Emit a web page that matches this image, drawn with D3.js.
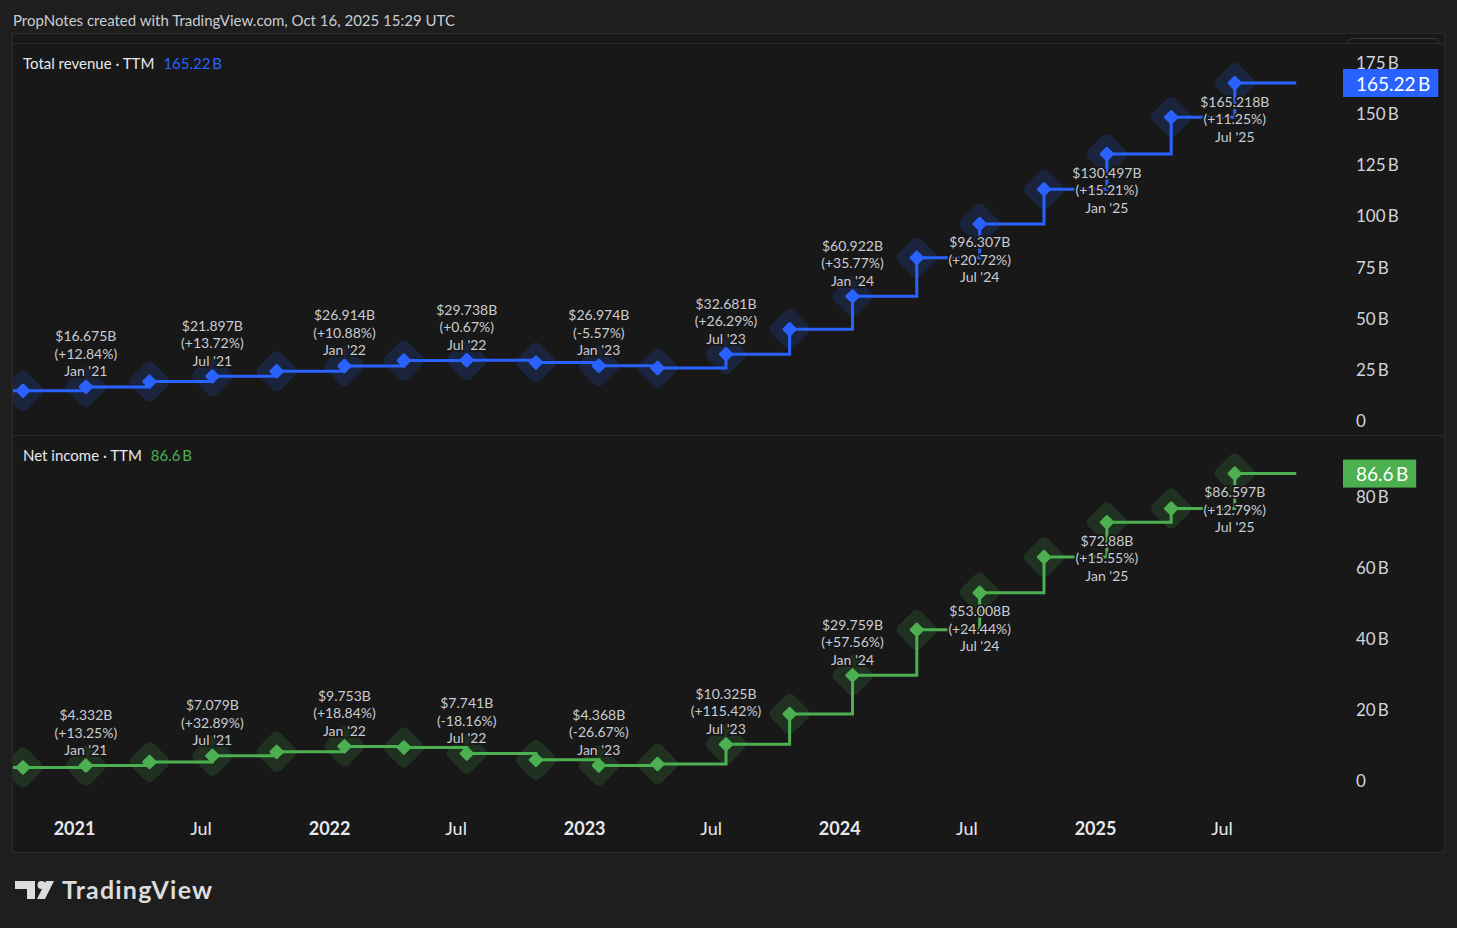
<!DOCTYPE html>
<html>
<head>
<meta charset="utf-8">
<script src="https://cdn.jsdelivr.net/npm/d3@7"></script>
<style>
html, body { margin: 0; padding: 0; background: #1e1e1e; }
svg { display: block; font-family: Lato, "Noto Sans", sans-serif; }
</style>
</head>
<body>
<svg id="chart" width="1457" height="928"></svg>
<script>
// 四半期データ（チャート上の位置から読み取り）
var dates = ["2020-10-20", "2021-01-18", "2021-04-19", "2021-07-18", "2021-10-18",
             "2022-01-23", "2022-04-18", "2022-07-17", "2022-10-24", "2023-01-22",
             "2023-04-16", "2023-07-23", "2023-10-22", "2024-01-20", "2024-04-21",
             "2024-07-20", "2024-10-20", "2025-01-18", "2025-04-20", "2025-07-20"];
var periods = ["Oct '20", "Jan '21", "Apr '21", "Jul '21", "Oct '21",
               "Jan '22", "Apr '22", "Jul '22", "Oct '22", "Jan '23",
               "Apr '23", "Jul '23", "Oct '23", "Jan '24", "Apr '24",
               "Jul '24", "Oct '24", "Jan '25", "Apr '25", "Jul '25"];

// 売上高 TTM (十億ドル)
var revenue = [14.777, 16.675, 19.256, 21.897, 24.274,
               26.914, 29.541, 29.738, 28.566, 26.974,
               25.878, 32.681, 44.870, 60.922, 79.774,
               96.307, 113.269, 130.497, 148.515, 165.218];
var revPct = [null, 12.84, null, 13.72, null, 10.88, null, 0.67, null, -5.57,
              null, 26.29, null, 35.77, null, 20.72, null, 15.21, null, 11.25];

// 純利益 TTM (十億ドル)
var netIncome = [3.825, 4.332, 5.327, 7.079, 8.207,
                 9.753, 9.459, 7.741, 5.957, 4.368,
                 4.793, 10.325, 18.888, 29.759, 42.597,
                 53.008, 63.074, 72.88, 76.774, 86.597];
var netPct = [null, 13.25, null, 32.89, null, 18.84, null, -18.16, null, -26.67,
              null, 115.42, null, 57.56, null, 24.44, null, 15.55, null, 12.79];

// 目盛
var xTicks = ["2021-01-01", "2021-07-01", "2022-01-01", "2022-07-01", "2023-01-01",
              "2023-07-01", "2024-01-01", "2024-07-01", "2025-01-01", "2025-07-01"];
var revTicks = [0, 25, 50, 75, 100, 125, 150, 175];
var netTicks = [0, 20, 40, 60, 80];
var lastDate = "2025-10-16";

var BG = "#181818";
var GRID = "#2c2c2c";
var TXT = "#d1d4dc";

var parse = d3.utcParse("%Y-%m-%d");
var svg = d3.select("#chart");

// 外枠
svg.append("rect").attr("width", 1457).attr("height", 928).attr("fill", "#1e1e1e");
svg.append("rect")
    .attr("x", 12.5).attr("y", 33.5).attr("width", 1432).attr("height", 819)
    .attr("fill", BG).attr("stroke", GRID);

svg.append("text")
    .attr("x", 13).attr("y", 20)
    .attr("dominant-baseline", "central")
    .attr("font-size", 15).attr("fill", "#c9ccd3")
    .text("PropNotes created with TradingView.com, Oct 16, 2025 15:29 UTC");

// 右上のボタンの名残
svg.append("clipPath").attr("id", "topStrip")
    .append("rect").attr("x", 1340).attr("y", 34).attr("width", 104).attr("height", 9);
svg.append("rect")
    .attr("x", 1347.5).attr("y", 38.5).attr("width", 92).attr("height", 24).attr("rx", 6)
    .attr("fill", "none").attr("stroke", "#3a3a3a")
    .attr("clip-path", "url(#topStrip)");

svg.append("line").attr("x1", 13).attr("x2", 1444).attr("y1", 43.5).attr("y2", 43.5).attr("stroke", GRID);
svg.append("line").attr("x1", 13).attr("x2", 1444).attr("y1", 435.5).attr("y2", 435.5).attr("stroke", GRID);

// x スケール
var xScale = d3.scaleUtc()
    .domain([parse("2021-01-01"), parse("2025-01-01")])
    .range([74, 1095]);
var plotLeft = 13, plotRight = 1340;

svg.append("clipPath").attr("id", "plotClip")
    .append("rect").attr("x", plotLeft).attr("y", 44).attr("width", plotRight - plotLeft).attr("height", 760);

// パネルを描く関数
function drawPane(opt) {
    var yScale = d3.scaleLinear().domain(opt.domain).range(opt.range);
    var color = opt.color;
    var pts = opt.values.map(function(v, i) {
        return { date: parse(dates[i]), v: v, pct: opt.pct[i], period: periods[i] };
    });
    var last = pts[pts.length - 1];

    // 目盛
    var axis = svg.append("g")
        .attr("transform", "translate(1343,0)")
        .call(d3.axisRight(yScale)
            .tickValues(opt.ticks)
            .tickSize(0)
            .tickPadding(13)
            .tickFormat(function(d) { return d === 0 ? "0" : d + "\u2009B"; }));
    axis.select(".domain").remove();
    axis.selectAll("text")
        .attr("font-family", "Lato, 'Noto Sans', sans-serif")
        .attr("font-size", 17).attr("fill", TXT);

    var g = svg.append("g").attr("clip-path", "url(#plotClip)");

    // 背景のひし形
    g.selectAll(".halo").data(pts).enter().append("rect")
        .attr("x", -16).attr("y", -16).attr("width", 32).attr("height", 32).attr("rx", 6)
        .attr("fill", color).attr("fill-opacity", 0.16)
        .attr("transform", function(d) {
            return "translate(" + xScale(d.date) + "," + yScale(d.v) + ") rotate(45)";
        });

    // ステップライン
    var lineData = [{ date: xScale.invert(plotLeft), v: pts[0].v }]
        .concat(pts)
        .concat([{ date: parse(lastDate), v: last.v }]);
    var line = d3.line()
        .x(function(d) { return xScale(d.date); })
        .y(function(d) { return yScale(d.v); })
        .curve(d3.curveStepAfter);
    g.append("path")
        .attr("d", line(lineData))
        .attr("fill", "none").attr("stroke", color).attr("stroke-width", 3);

    g.selectAll(".dot").data(pts).enter().append("rect")
        .attr("x", -5.5).attr("y", -5.5).attr("width", 11).attr("height", 11).attr("rx", 1.5)
        .attr("fill", color)
        .attr("transform", function(d) {
            return "translate(" + xScale(d.date) + "," + yScale(d.v) + ") rotate(45)";
        });

    // 注記ラベル
    var topVal = yScale.invert(opt.paneTop);
    pts.filter(function(d) { return d.pct !== null; }).forEach(function(d) {
        var px = xScale(d.date), py = yScale(d.v);
        var below = d.v > topVal / 2;
        var lines = [
            "$" + (+d.v.toFixed(3)) + "B",
            "(" + (d.pct >= 0 ? "+" : "") + d.pct.toFixed(2) + "%)",
            d.period
        ];
        lines.forEach(function(t, k) {
            var ty = below ? py + 18 + k * 17.5 : py - 16 - (2 - k) * 17.5;
            g.append("text")
                .attr("x", px).attr("y", ty)
                .attr("text-anchor", "middle")
                .attr("dominant-baseline", "central")
                .attr("font-size", 14)
                .attr("fill", "#c9ccd3")
                .attr("stroke", BG).attr("stroke-width", 3.5)
                .attr("paint-order", "stroke")
                .text(t);
        });
    });

    // 凡例
    var leg = svg.append("text")
        .attr("x", 23).attr("y", opt.legendY)
        .attr("dominant-baseline", "central")
        .attr("font-size", 15).attr("fill", "#e6e8ee");
    leg.append("tspan").text(opt.name + " \u00b7 TTM");
    leg.append("tspan").attr("dx", 9).attr("fill", color).text(opt.badge);

    // 最新値ラベル
    var ly = yScale(last.v);
    var badge = svg.append("g");
    var bRect = badge.append("rect").attr("fill", color);
    var bText = badge.append("text")
        .attr("x", 1356).attr("y", ly)
        .attr("dominant-baseline", "central")
        .attr("font-size", 19).attr("fill", "#ffffff")
        .text(opt.badge);
    var w = bText.node().getComputedTextLength();
    bRect.attr("x", 1343).attr("y", ly - 14).attr("width", w + 13 + 8).attr("height", 28);
}

drawPane({
    name: "Total revenue",
    values: revenue, pct: revPct, ticks: revTicks,
    domain: [0, 175], range: [421, 63], paneTop: 44,
    color: "#2962ff", badge: "165.22\u2009B", legendY: 63
});

drawPane({
    name: "Net income",
    values: netIncome, pct: netPct, ticks: netTicks,
    domain: [0, 80], range: [781, 497], paneTop: 436,
    color: "#4caf50", badge: "86.6\u2009B", legendY: 455
});

// x 軸
var xAxis = svg.append("g")
    .attr("transform", "translate(0,829)")
    .call(d3.axisBottom(xScale)
        .tickValues(xTicks.map(parse))
        .tickSize(0)
        .tickFormat(function(d) {
            return d.getUTCMonth() === 0 ? d3.utcFormat("%Y")(d) : "Jul";
        }));
xAxis.select(".domain").remove();
xAxis.selectAll("text")
    .attr("y", 0).attr("dy", "0.35em")
    .attr("font-family", "Lato, 'Noto Sans', sans-serif")
    .attr("font-size", 18).attr("fill", "#e6e8ee")
    .attr("font-weight", function(d) { return d.getUTCMonth() === 0 ? "bold" : "normal"; });

// TradingView ロゴ
var logo = svg.append("g").attr("fill", "#dcdcdc");
logo.append("path").attr("d", "M15,881 H35 V899 H27 V889 H15 Z");
logo.append("circle").attr("cx", 41.5).attr("cy", 885).attr("r", 4);
logo.append("path").attr("d", "M46,881 H54 L45,899 H37 Z");
logo.append("text")
    .attr("x", 62).attr("y", 899)
    .attr("font-size", 25).attr("font-weight", "bold")
    .attr("letter-spacing", 1.2)
    .text("TradingView");
</script>
</body>
</html>
